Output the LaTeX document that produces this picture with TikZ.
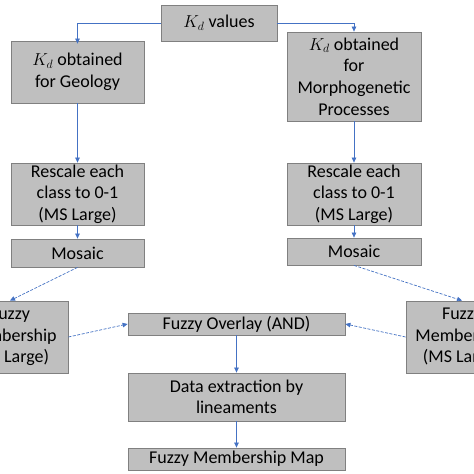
\documentclass[tikz,border=0pt]{standalone}
\usepackage{fontspec}
\setmainfont{Carlito}
\usetikzlibrary{arrows.meta}
\begin{document}
\begin{tikzpicture}[x=1pt,y=-1pt,
  box/.style={draw=black!50,fill=black!25,line width=0.8pt,inner sep=0pt,align=center,
    font=\fontsize{18}{21.6}\selectfont,text=black},
  arr/.style={draw={rgb,255:red,68;green,114;blue,196},line width=0.7pt,
    -{Triangle[length=5pt,width=4.5pt]}},
  darr/.style={arr,dash pattern=on 3pt off 1.5pt}]
\clip (0,0) rectangle (474,474);
\fill[white] (0,0) rectangle (474,474);
\node[box,minimum width=116pt,minimum height=36pt] (kd) at (219,23) {$K_d$ values};
\node[box,minimum width=133pt,minimum height=62pt] (geo) at (77.5,72) {$K_d$ obtained\\for Geology};
\node[box,minimum width=134pt,minimum height=89pt] (morph) at (354,76.5) {$K_d$ obtained\\for\\Morphogenetic\\Processes};
\node[box,minimum width=133pt,minimum height=62pt] (resL) at (77.5,194) {Rescale each\\class to 0-1\\(MS Large)};
\node[box,minimum width=134pt,minimum height=62pt] (resR) at (354,194) {Rescale each\\class to 0-1\\(MS Large)};
\node[box,minimum width=133pt,minimum height=28pt] (mosL) at (77.5,253) {Mosaic};
\node[box,minimum width=134pt,minimum height=27pt] (mosR) at (354,251.5) {Mosaic};
\node[box,minimum width=116pt,minimum height=72pt] (fuzL) at (10,337) {Fuzzy\\Membership\\(MS Large)};
\node[box,minimum width=112pt,minimum height=72pt] (fuzR) at (462,337) {Fuzzy\\Membership\\(MS Large)};
\node[box,minimum width=217pt,minimum height=22pt] (ovl) at (236.5,324) {Fuzzy Overlay (AND)};
\node[box,minimum width=217pt,minimum height=48pt] (dat) at (236.5,397) {Data extraction by\\lineaments};
\node[box,minimum width=217pt,minimum height=22pt] (map) at (236.5,459) {Fuzzy Membership Map};
\draw[arr] (kd.west) -| ([yshift=-3pt]geo.north);
\draw[arr] (kd.east) -| (morph.north);
\draw[arr] (geo.south) -- (resL.north);
\draw[arr] (morph.south) -- (resR.north);
\draw[arr] (resL.south) -- (mosL.north);
\draw[arr] (resR.south) -- (mosR.north);
\draw[darr] (mosL.south) -- (fuzL.north);
\draw[darr] (mosR.south) -- (fuzR.north);
\draw[darr] (fuzL.east) -- (ovl.west);
\draw[darr] (fuzR.west) -- (ovl.east);
\draw[arr] (ovl.south) -- (dat.north);
\draw[arr] (dat.south) -- (map.north);
\end{tikzpicture}
\end{document}
